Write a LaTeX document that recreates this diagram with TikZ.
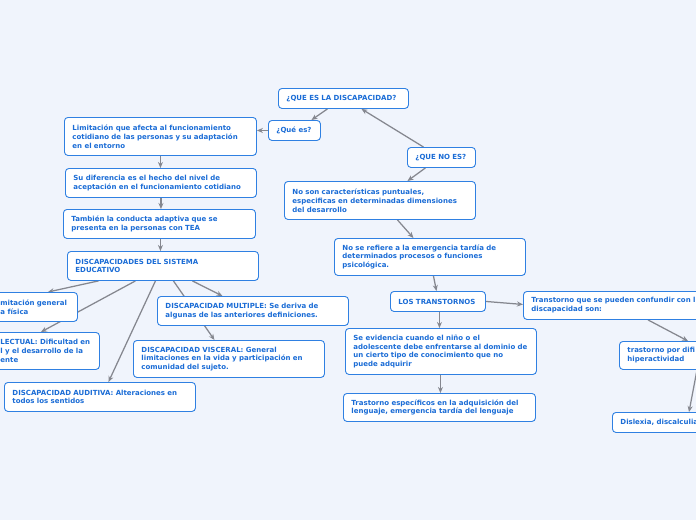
\documentclass[tikz,border=0pt]{standalone}
\usepackage{fontspec}
\setmainfont{DejaVu Sans}
\usetikzlibrary{arrows.meta}
\definecolor{bg}{HTML}{F0F4FC}
\definecolor{bord}{HTML}{2F80E2}
\definecolor{txt}{HTML}{1A6CD6}
\definecolor{edgec}{HTML}{85878F}
\pgfdeclarelayer{background}
\pgfsetlayers{background,main}
\tikzset{
  box/.style={draw=bord, fill=white, rounded corners=3.5pt, line width=0.9pt,
    font=\fontsize{7}{8.8}\selectfont\bfseries, text=txt, align=left,
    inner xsep=8pt, inner ysep=2pt, anchor=north west},
  edge/.style={draw=edgec, line width=1.25pt, -{Stealth[length=6pt,width=5pt]}}
}
\begin{document}
\begin{tikzpicture}[x=1pt,y=-1pt]
\useasboundingbox (0,0) rectangle (696,520);
\begin{pgfonlayer}{background}
\fill[bg] (0,0) rectangle (696,520);
\end{pgfonlayer}
\clip (0,0) rectangle (696,520);

\node[box, text width=114, minimum height=20] (q) at (278,88) {¿QUE ES LA DISCAPACIDAD?};
\node[box, text width=36, minimum height=20] (quees) at (268,120) {¿Qué es?};
\node[box, text width=52, minimum height=20] (queno) at (407,147) {¿QUE NO ES?};
\node[box, text width=176, minimum height=38] (lim) at (64,117) {Limitación que afecta al funcionamiento\\cotidiano de las personas y su adaptación\\en el entorno};
\node[box, text width=175, minimum height=29] (dif) at (65,168) {Su diferencia es el hecho del nivel de\\aceptación en el funcionamiento cotidiano};
\node[box, text width=176, minimum height=29] (tam) at (63,209) {También la conducta adaptiva que se\\presenta en la personas con TEA};
\node[box, text width=175, minimum height=29] (dse) at (67,251) {DISCAPACIDADES DEL SISTEMA\\EDUCATIVO};
\node[box, text width=69, minimum height=29] (fis) at (-8,292) {mitación general\\a física};
\node[box, text width=91, minimum height=37] (int) at (-8,332) {LECTUAL: Dificultad en\\l y el desarrollo de la\\ente};
\node[box, text width=175, minimum height=29] (aud) at (4,382) {DISCAPACIDAD AUDITIVA: Alteraciones en\\todos los sentidos};
\node[box, text width=175, minimum height=29] (mul) at (157,296) {DISCAPACIDAD MULTIPLE: Se deriva de\\algunas de las anteriores definiciones.};
\node[box, text width=175, minimum height=37] (vis) at (133,340) {DISCAPACIDAD VISCERAL: General\\limitaciones en la vida y participación en\\comunidad del sujeto.};
\node[box, text width=175, minimum height=38] (noson) at (284,181) {No son características puntuales,\\especificas en determinadas dimensiones\\del desarrollo};
\node[box, text width=175, minimum height=37] (nose) at (334,238) {No se refiere a la emergencia tardía de\\determinados procesos o funciones\\psicológica.};
\node[box, text width=79, minimum height=20] (tr) at (390,291) {LOS TRANSTORNOS};
\node[box, text width=175, minimum height=46] (sev) at (345,328) {Se evidencia cuando el niño o el\\adolescente debe enfrentarse al dominio de\\un cierto tipo de conocimiento que no\\puede adquirir};
\node[box, text width=176, minimum height=28] (tre) at (343,393) {Trastorno específicos en la adquisición del\\lenguaje, emergencia tardía del lenguaje};
\node[box, text width=200, minimum height=28] (tcon) at (523,291) {Transtorno que se pueden confundir con l\\discapacidad son:};
\node[box, text width=100, minimum height=28] (hip) at (619,341) {trastorno por difi\\hiperactividad};
\node[box, text width=100, minimum height=20] (dis) at (612,412) {Dislexia, discalculia};

\begin{pgfonlayer}{background}
\clip (0,0) rectangle (696,520);
\draw[edge] ([xshift=-16pt]q.south) -- ([xshift=17pt]quees.north);
\draw[edge] ([xshift=-18pt]queno.north) -- ([xshift=18pt]q.south);
\draw[edge] (quees.west) -- (quees.west -| lim.east);
\draw[edge] (lim.south) -- (lim.south |- dif.north);
\draw[edge] (dif.south) -- (dif.south |- tam.north);
\draw[edge] ([xshift=1pt]tam.south) -- ([xshift=1pt]tam.south |- dse.north);
\draw[edge] ([xshift=-64.5pt]dse.south) -- ([xshift=13pt]fis.north);
\draw[edge] ([xshift=-27.5pt]dse.south) -- ([xshift=-5pt]int.north);
\draw[edge] ([xshift=-7.5pt]dse.south) -- ([xshift=8.5pt]aud.north);
\draw[edge] ([xshift=10.5pt]dse.south) -- ([xshift=-14.5pt]vis.north);
\draw[edge] ([xshift=29.5pt]dse.south) -- ([xshift=-30.5pt]mul.north);
\draw[edge] ([xshift=-16pt]queno.south) -- ([xshift=27.5pt]noson.north);
\draw[edge] ([xshift=17.5pt]noson.south) -- ([xshift=-16.5pt]nose.north);
\draw[edge] ([xshift=3.5pt]nose.south) -- ([xshift=-1.5pt]tr.north);
\draw[edge] ([xshift=1.5pt]tr.south) -- ([xshift=1.5pt]tr.south |- sev.north);
\draw[edge] ([xshift=-0.5pt]sev.south) -- ([xshift=-0.5pt]sev.south |- tre.north);
\draw[edge] (tr.east) -- ([yshift=1pt]tcon.west);
\draw[edge] ([xshift=125pt]tcon.south west) -- ([xshift=69pt]hip.north west);
\draw[edge] ([xshift=78pt]hip.south west) -- ([xshift=77pt]dis.north west);
\end{pgfonlayer}
\end{tikzpicture}
\end{document}
